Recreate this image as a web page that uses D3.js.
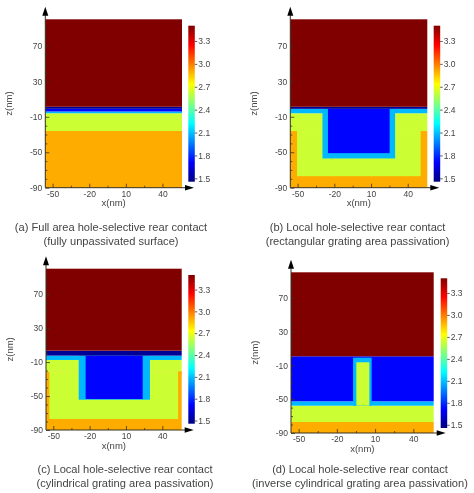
<!DOCTYPE html>
<html>
<head>
<meta charset="utf-8">
<script src="https://d3js.org/d3.v7.min.js"></script>
<style>
html, body { margin: 0; padding: 0; background: #fff; }
svg { display: block; filter: blur(0.35px); }
text { font-family: "Liberation Sans", Arial, sans-serif; fill: #444; }
</style>
</head>
<body>
<svg id="fig" width="474" height="493"></svg>
<script>
var xTicks = [-50, -20, 10, 40];
var xMinor = [-35, -5, 25];
var zTicks = [70, 30, -10, -50, -90];
var zMinor = [-60, -70, -80, -40, -30, -20, 0, 10, 20, 40, 50, 60, 80, 90];
var cbarTicks = [3.3, 3.0, 2.7, 2.4, 2.1, 1.8, 1.5];

// energy levels seen in the picture (colorbar units)
var V_RED = 3.5, V_ORANGE = 2.9, V_YELLOW = 2.63, V_CYAN = 2.08, V_BLUE = 1.72, V_NAVY = 1.5;

// [x0, x1, z0, z1, value], painted in order
var regionsA = [
    [-56, 56, -90, -26, V_ORANGE],
    [-56, 56, -26, -6, V_YELLOW],
    [-56, 56, -6, -4, V_CYAN],
    [-56, 56, -4, -1, V_BLUE],
    [-56, 56, -1, 1.3, V_NAVY],
    [-56, 56, 1.3, 100, V_RED]
];
var regionsB = [
    [-56, 56, -90, -26, V_ORANGE],
    [-56, 56, -26, -6, V_YELLOW],
    [-50.5, 50.5, -77, -26, V_YELLOW],
    [-56, 56, -6, -1, V_CYAN],
    [-29.7, 29.7, -57, -1, V_CYAN],
    [-25.2, 25.2, -51, -1, V_BLUE],
    [-56, 56, -1, 1.3, V_NAVY],
    [-56, 56, 1.3, 100, V_RED]
];
var regionsC = [
    [-56, 56, -90, -21, V_ORANGE],
    [-56, 56, -21, -7.5, V_YELLOW],
    [-53.2, 53, -77, -21, V_YELLOW],
    [53, 56, -24, -21, V_ORANGE],
    [-56, 56, -7.5, -2.4, V_CYAN],
    [-29, 29.8, -54.3, -2.4, V_CYAN],
    [-23.3, 23.8, -53.5, -2.4, V_BLUE],
    [-56, 56, -2.4, 3.4, V_NAVY],
    [-56, 56, 3.4, 100, V_RED]
];
var regionsD = [
    [-56, 56, -90, -77, V_ORANGE],
    [-56, 56, -77, -57.7, V_YELLOW],
    [-56, 56, -57.7, -52.5, V_CYAN],
    [-56, 56, -52.5, 0.7, V_BLUE],
    [-7.3, 7.3, -57.7, -0.9, V_CYAN],
    [-4.7, 5.5, -57.7, -6.4, V_YELLOW],
    [-56, 56, 0.7, 100, V_RED]
];

var captions = [
    ["(a) Full area hole-selective rear contact", "(fully unpassivated surface)"],
    ["(b) Local hole-selective rear contact", "(rectangular grating area passivation)"],
    ["(c) Local hole-selective rear contact", "(cylindrical grating area passivation)"],
    ["(d) Local hole-selective rear contact", "(inverse cylindrical grating area passivation)"]
];

var layout = [
    {regions: regionsA, cap: captions[0], l: 45.3, r: 182, t: 19.3, b: 187.7, cx: 188.3, ct: 25.7, cb: 181.7, capX: 111, capY: 231},
    {regions: regionsB, cap: captions[1], l: 290.3, r: 427.3, t: 19.3, b: 187.7, cx: 433.7, ct: 25.7, cb: 181.7, capX: 357.6, capY: 231},
    {regions: regionsC, cap: captions[2], l: 46, r: 181.7, t: 268.7, b: 430, cx: 188.3, ct: 275, cb: 423.7, capX: 125, capY: 473},
    {regions: regionsD, cap: captions[3], l: 291, r: 433.7, t: 272.3, b: 433, cx: 440.7, ct: 278.3, cb: 428, capX: 360, capY: 473}
];

var V_MIN = 1.456, V_MAX = 3.5;
var jetT = [0, 0.125, 0.375, 0.625, 0.875, 1];
var jet = d3.scaleLinear()
    .domain(jetT.map(function (t) { return V_MIN + t * (V_MAX - V_MIN); }))
    .range(["#000080", "#0000ff", "#00ffff", "#ffff00", "#ff0000", "#800000"]);

var svg = d3.select("#fig");
var INK = "#3a3020";

var grad = svg.append("defs").append("linearGradient")
    .attr("id", "jet").attr("x1", 0).attr("y1", 1).attr("x2", 0).attr("y2", 0);
jetT.forEach(function (t) {
    grad.append("stop").attr("offset", t).attr("stop-color", jet(V_MIN + t * (V_MAX - V_MIN)));
});

function hyphen(d) { return String(d); }

function styleAxis(g, size) {
    g.select(".domain").remove();
    g.selectAll("line").attr("stroke", INK).attr("stroke-width", 0.8);
    g.selectAll("text").style("font-size", size + "px").style("fill", "#444");
}

layout.forEach(function (p) {
    var x = d3.scaleLinear().domain([-56, 56]).range([p.l, p.r]);
    var z = d3.scaleLinear().domain([-90, 100]).range([p.b, p.t]);
    var g = svg.append("g");

    g.selectAll("rect.region").data(p.regions).enter().append("rect")
        .attr("class", "region")
        .attr("x", function (d) { return x(d[0]); })
        .attr("width", function (d) { return x(d[1]) - x(d[0]); })
        .attr("y", function (d) { return z(d[3]); })
        .attr("height", function (d) { return z(d[2]) - z(d[3]); })
        .attr("fill", function (d) { return jet(d[4]); });

    // ticks sit inside the plot
    g.append("g").attr("transform", "translate(0," + p.b + ")")
        .call(d3.axisBottom(x).tickValues(xMinor).tickSize(-2).tickFormat(""))
        .call(styleAxis, 8.5);
    g.append("g").attr("transform", "translate(" + p.l + ",0)")
        .call(d3.axisLeft(z).tickValues(zMinor).tickSize(-2).tickFormat(""))
        .call(styleAxis, 8.5);
    var xAxis = g.append("g").attr("transform", "translate(0," + p.b + ")")
        .call(d3.axisBottom(x).tickValues(xTicks).tickSize(-4).tickPadding(3).tickFormat(hyphen))
        .call(styleAxis, 8.5);
    xAxis.selectAll("text").attr("y", 3);
    var zAxis = g.append("g").attr("transform", "translate(" + p.l + ",0)")
        .call(d3.axisLeft(z).tickValues(zTicks).tickSize(-4).tickPadding(3).tickFormat(hyphen))
        .call(styleAxis, 8.5);
    zAxis.selectAll("text").attr("x", -3);

    // axis lines with arrow heads
    g.append("line").attr("x1", p.l).attr("x2", p.l).attr("y1", p.t - 4).attr("y2", p.b)
        .attr("stroke", INK).attr("stroke-width", 1);
    g.append("line").attr("x1", p.l).attr("x2", p.r + 4).attr("y1", p.b).attr("y2", p.b)
        .attr("stroke", INK).attr("stroke-width", 1);
    g.append("path").attr("fill", "#000")
        .attr("d", "M" + p.l + "," + (p.t - 12.5) + "l3,9h-6z");
    g.append("path").attr("fill", "#000")
        .attr("d", "M" + (p.r + 12) + "," + p.b + "l-9,-2.8v5.6z");

    g.append("text").attr("x", (p.l + p.r) / 2).attr("y", p.b + 18.5)
        .attr("text-anchor", "middle").style("font-size", "9.5px").text("x(nm)");
    g.append("text")
        .attr("transform", "translate(" + (p.l - 33) + "," + ((p.t + p.b) / 2) + ") rotate(-90)")
        .attr("text-anchor", "middle").style("font-size", "9.5px").text("z(nm)");

    // colorbar
    var c = d3.scaleLinear().domain([V_MIN, V_MAX]).range([p.cb, p.ct]);
    g.append("rect").attr("x", p.cx).attr("y", p.ct).attr("width", 6.5).attr("height", p.cb - p.ct)
        .attr("fill", "url(#jet)");
    g.append("g").attr("transform", "translate(" + (p.cx + 6.5) + ",0)")
        .call(d3.axisRight(c).tickValues(cbarTicks).tickSize(2.5).tickPadding(1).tickFormat(d3.format(".1f")))
        .call(styleAxis, 8.5);

    // caption
    g.selectAll("text.cap").data(p.cap).enter().append("text")
        .attr("class", "cap")
        .attr("x", p.capX)
        .attr("y", function (d, i) { return p.capY + i * 13.5; })
        .attr("text-anchor", "middle")
        .style("font-size", "11.1px")
        .text(function (d) { return d; });
});
</script>
</body>
</html>
